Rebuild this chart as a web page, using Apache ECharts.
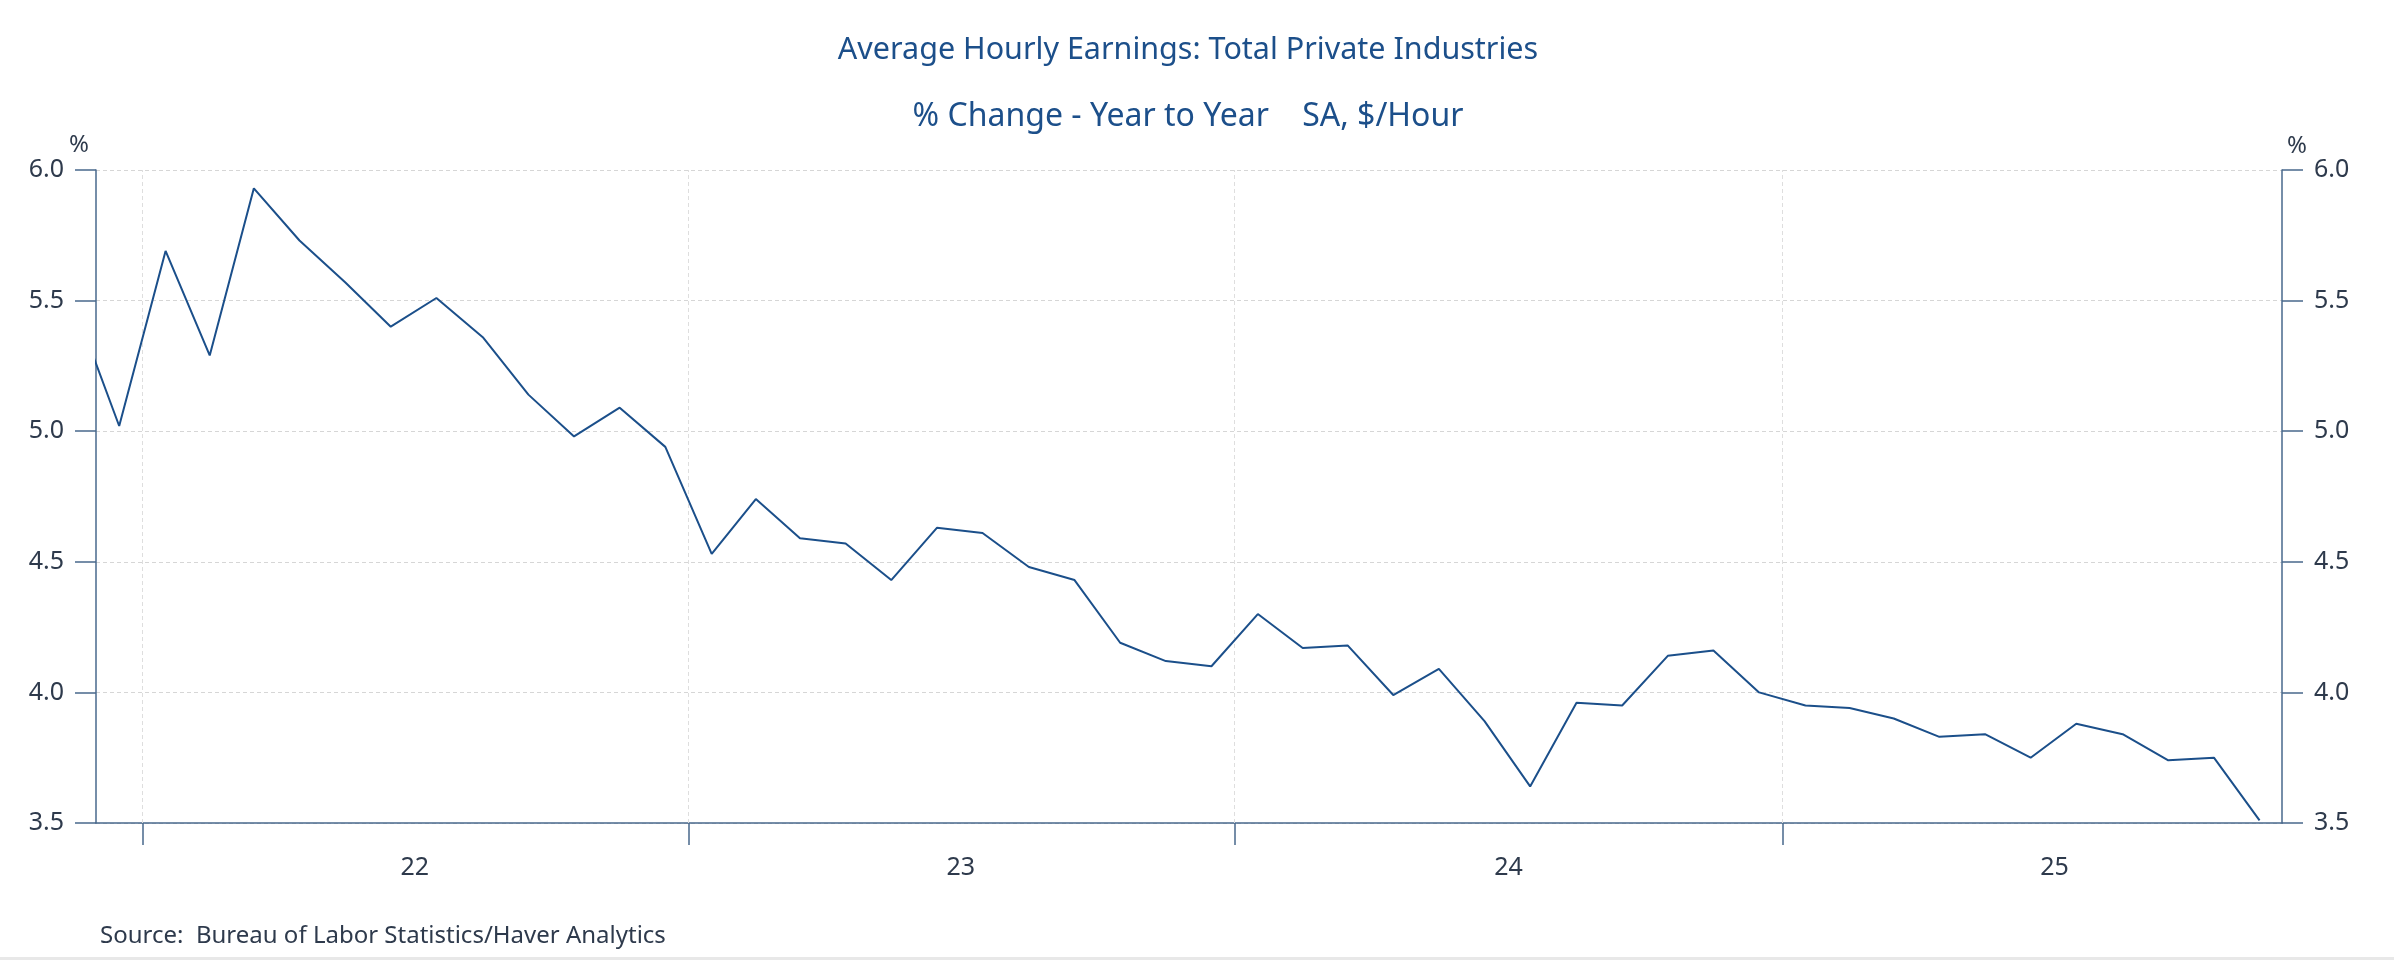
<!DOCTYPE html>
<html>
<head>
<meta charset="utf-8">
<script src="https://cdn.jsdelivr.net/npm/echarts@6/dist/echarts.min.js"></script>
<style>
  html, body { margin: 0; padding: 0; background: #ffffff; }
  #chart { width: 2394px; height: 960px; }
</style>
</head>
<body>
<div id="chart"></div>
<script>
// ---- Data (monthly, % change year to year) ----
const months = [
  '2021-11','2021-12',
  '2022-01','2022-02','2022-03','2022-04','2022-05','2022-06','2022-07','2022-08','2022-09','2022-10','2022-11','2022-12',
  '2023-01','2023-02','2023-03','2023-04','2023-05','2023-06','2023-07','2023-08','2023-09','2023-10','2023-11','2023-12',
  '2024-01','2024-02','2024-03','2024-04','2024-05','2024-06','2024-07','2024-08','2024-09','2024-10','2024-11','2024-12',
  '2025-01','2025-02','2025-03','2025-04','2025-05','2025-06','2025-07','2025-08','2025-09','2025-10','2025-11'
];
const values = [
  5.49, 5.02,
  5.69, 5.29, 5.93, 5.73, 5.57, 5.40, 5.51, 5.36, 5.14, 4.98, 5.09, 4.94,
  4.53, 4.74, 4.59, 4.57, 4.43, 4.63, 4.61, 4.48, 4.43, 4.19, 4.12, 4.10,
  4.30, 4.17, 4.18, 3.99, 4.09, 3.89, 3.64, 3.96, 3.95, 4.14, 4.16, 4.00,
  3.95, 3.94, 3.90, 3.83, 3.84, 3.75, 3.88, 3.84, 3.74, 3.75, 3.51
];
const axisStart = '2021-12-01';
const axisEnd = '2025-12-01';
const yearStarts = ['2022-01-01','2023-01-01','2024-01-01','2025-01-01'];
const yearLabelDates = ['2022-07-02','2023-07-02','2024-07-02','2025-07-02'];
const yearLabels = ['22','23','24','25'];
const yMin = 3.5, yMax = 6.0, yStep = 0.5;

const titleText = 'Average Hourly Earnings: Total Private Industries';
const subtitleText = '% Change - Year to Year    SA, $/Hour';
const sourceText = 'Source:  Bureau of Labor Statistics/Haver Analytics';

// ---- helpers ----
function ts(s) {
  const p = s.split('-').map(Number);
  return Date.UTC(p[0], p[1] - 1, p[2] || 1);
}
function midMonth(m) {
  const p = m.split('-').map(Number);
  const a = Date.UTC(p[0], p[1] - 1, 1);
  const b = Date.UTC(p[0], p[1], 1);
  return (a + b) / 2;
}
const seriesData = months.map((m, i) => [midMonth(m), values[i]]);
const yearTickTs = yearStarts.map(ts);
const yearLabelTs = yearLabelDates.map(ts);
const labelMap = {};
yearLabelTs.forEach((t, i) => { labelMap[t] = yearLabels[i]; });

const FONT = '"Noto Sans", "Open Sans", sans-serif';
const AXIS_COLOR = '#48688c';
const TEXT_COLOR = '#2e3a4c';
const TITLE_COLOR = '#1c4f8a';
const LINE_COLOR = '#1b4f8a';
const GRID_COLOR = '#d6d6d6';

const chart = echarts.init(document.getElementById('chart'), null, { renderer: 'canvas' });

function yAxisCfg(pos) {
  return {
    type: 'value',
    position: pos,
    min: yMin, max: yMax, interval: yStep,
    name: '%',
    nameLocation: 'end',
    nameGap: 12,
    nameTextStyle: {
      color: TEXT_COLOR, fontFamily: FONT, fontSize: 24,
      padding: pos === 'left' ? [0, 34, 0, 0] : [0, 0, 0, 30]
    },
    axisLine: { show: true, onZero: false, lineStyle: { color: AXIS_COLOR, width: 1.5 } },
    axisTick: { show: true, inside: false, length: 21, lineStyle: { color: AXIS_COLOR, width: 1.5 } },
    axisLabel: {
      show: true, margin: 32, color: TEXT_COLOR, fontFamily: FONT, fontSize: 25,
      formatter: v => v.toFixed(1)
    },
    splitLine: pos === 'left'
      ? { show: true, lineStyle: { color: GRID_COLOR, type: [4, 3], width: 1 } }
      : { show: false }
  };
}

const option = {
  backgroundColor: '#ffffff',
  animation: false,
  title: [
    {
      text: titleText, left: 1183, top: 30, textAlign: 'center',
      textStyle: { color: TITLE_COLOR, fontFamily: FONT, fontSize: 30.5, fontWeight: 'normal' }
    },
    {
      text: subtitleText, left: 1183, top: 96, textAlign: 'center',
      textStyle: { color: TITLE_COLOR, fontFamily: FONT, fontSize: 32, fontWeight: 'normal' }
    }
  ],
  grid: { left: 96, right: 112, top: 170, bottom: 137, containLabel: false },
  xAxis: {
    type: 'value',
    min: ts(axisStart), max: ts(axisEnd),
    axisLine: { show: true, onZero: false, lineStyle: { color: AXIS_COLOR, width: 1.5 } },
    axisTick: { show: true, inside: false, length: 22, customValues: yearTickTs,
      lineStyle: { color: AXIS_COLOR, width: 1.5 } },
    axisLabel: {
      show: true, margin: 32, customValues: yearLabelTs,
      color: TEXT_COLOR, fontFamily: FONT, fontSize: 25,
      formatter: v => labelMap[v] !== undefined ? labelMap[v] : ''
    },
    splitLine: { show: false }
  },
  yAxis: [yAxisCfg('left'), yAxisCfg('right')],
  series: [
    {
      type: 'line', name: 'grid-years', data: [], z: 1, silent: true,
      markLine: {
        z: 1, zlevel: 0,
        silent: true, symbol: ['none', 'none'], label: { show: false },
        lineStyle: { color: '#dedede', type: [4, 3], width: 1 },
        emphasis: { disabled: true },
        data: yearTickTs.map(t => ({ xAxis: t }))
      }
    },
    {
      type: 'line', name: 'AHE', data: seriesData, z: 3,
      showSymbol: false, symbol: 'none', clip: true,
      lineStyle: { color: LINE_COLOR, width: 2 },
      itemStyle: { color: LINE_COLOR }
    }
  ],
  graphic: [
    {
      type: 'text', left: 100, top: 924,
      style: { text: sourceText, fill: '#2e3a4c', font: '24px ' + FONT }
    },
    {
      type: 'rect', left: 0, top: 957,
      shape: { width: 2394, height: 3 },
      style: { fill: '#e8e8e8' }
    }
  ]
};
chart.setOption(option);
</script>
</body>
</html>
